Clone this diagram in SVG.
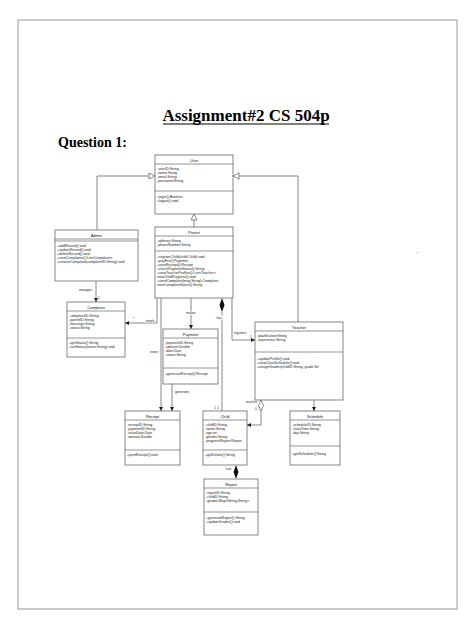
<svg xmlns="http://www.w3.org/2000/svg" width="474" height="632" viewBox="0 0 474 632">
<style>
.box{fill:#fff;stroke:#666;stroke-width:0.8}
.sep{stroke:#666;stroke-width:0.7}
.t{font-family:"Liberation Sans",Arial,sans-serif;font-size:3.5px;fill:#222}
.h{font-family:"Liberation Sans",Arial,sans-serif;font-size:3.9px;fill:#111;text-anchor:middle}
.c{fill:none;stroke:#555;stroke-width:0.7}
.lbl{font-family:"Liberation Sans",Arial,sans-serif;font-size:3.2px;fill:#222}
.title{font-family:"Liberation Serif","Times New Roman",serif;font-weight:bold;fill:#000}
</style>
<defs>
<marker id="arr" viewBox="0 0 6 6" refX="6" refY="3" markerWidth="4" markerHeight="4" orient="auto" markerUnits="userSpaceOnUse">
<path d="M0,0 L6,3 L0,6 z" fill="#222"/>
</marker>
</defs>
<rect width="474" height="632" fill="#fff"/>
<rect x="18" y="20" width="439" height="589" fill="none" stroke="#999" stroke-width="1"/>
<text class="title" x="246" y="121" font-size="17" text-anchor="middle">Assignment#2 CS 504p</text>
<line x1="163" y1="124" x2="329" y2="124" stroke="#000" stroke-width="1"/>
<text class="title" x="58" y="147" font-size="14">Question 1:</text>
<text class="lbl" x="417" y="255">*</text>

<g id="connectors">
<path class="c" d="M97,230 V176 H149"/>
<polygon points="149,173 155,176 149,179" fill="#fff" stroke="#555" stroke-width="0.7"/>
<path class="c" d="M298,322 V176 H239"/>
<polygon points="239,173 233,176 239,179" fill="#fff" stroke="#555" stroke-width="0.7"/>
<path class="c" d="M194,227 V220"/>
<polygon points="191,220 194,214 197,220" fill="#fff" stroke="#555" stroke-width="0.7"/>
<path class="c" d="M96,281 V302" marker-end="url(#arr)"/>
<text class="lbl" x="92" y="291" text-anchor="end">manages</text>
<text class="lbl" x="98" y="299">1</text>
<path class="c" d="M157,298 V323 H125" marker-end="url(#arr)"/>
<rect x="145" y="318.5" width="10" height="4" fill="#fff"/>
<text class="lbl" x="150" y="321.5" text-anchor="middle">sends</text>
<text class="lbl" x="133" y="320">*</text>
<path class="c" d="M161,298 V411" marker-end="url(#arr)"/>
<text class="lbl" x="158" y="353" text-anchor="end">views</text>
<path class="c" d="M191,298 V329" marker-end="url(#arr)"/>
<rect x="185" y="311" width="12" height="4" fill="#fff"/>
<text class="lbl" x="191" y="314" text-anchor="middle">makes</text>
<path class="c" d="M172,384 V411" marker-end="url(#arr)"/>
<text class="lbl" x="175" y="393">generates</text>
<polygon points="222,298 224.5,305 222,312 219.5,305" fill="#111"/>
<path class="c" d="M222,312 V411"/>
<rect x="214" y="315.5" width="10" height="4" fill="#fff"/>
<text class="lbl" x="219" y="318.5" text-anchor="middle">has</text>
<text class="lbl" x="216" y="409" text-anchor="end">1</text>
<text class="lbl" x="219" y="409" text-anchor="end">1</text>
<path class="c" d="M232,298 V340 H255" marker-end="url(#arr)"/>
<text class="lbl" x="234" y="334">registers</text>
<text class="lbl" x="250" y="338">1</text>
<polygon points="261,400 263.5,405.5 261,411 258.5,405.5" fill="#fff" stroke="#555" stroke-width="0.7"/>
<path class="c" d="M261,411 V425 H247" marker-end="url(#arr)"/>
<text class="lbl" x="257" y="403" text-anchor="end">teaches</text>
<text class="lbl" x="255" y="410">0..*</text>
<path class="c" d="M314,400 V411" marker-end="url(#arr)"/>
<text class="lbl" x="309" y="400">defines</text>
<polygon points="236,465 238.5,472 236,479 233.5,472" fill="#111"/>
<text class="lbl" x="231" y="470" text-anchor="end">has</text>
</g>

<g id="user">
<rect class="box" x="155" y="155" width="78" height="59"/>
<line class="sep" x1="155" y1="164" x2="233" y2="164"/>
<line class="sep" x1="155" y1="191" x2="233" y2="191"/>
<text class="h" x="194" y="161.5">User</text>
<text class="t" x="157" y="169.5">-userID:String</text>
<text class="t" x="157" y="173.5">-name:String</text>
<text class="t" x="157" y="177.5">-email:String</text>
<text class="t" x="157" y="181.5">-password:String</text>
<text class="t" x="157" y="198">+login():Boolean</text>
<text class="t" x="157" y="202">+logout():void</text>
</g>

<g id="admin">
<rect class="box" x="55" y="230" width="83" height="51"/>
<line class="sep" x1="55" y1="239" x2="138" y2="239"/>
<line class="sep" x1="55" y1="241" x2="138" y2="241"/>
<text class="h" x="96.5" y="236.5">Admin</text>
<text class="t" x="57" y="246.5">+addRecord():void</text>
<text class="t" x="57" y="250.5">+updateRecord():void</text>
<text class="t" x="57" y="254.5">+deleteRecord():void</text>
<text class="t" x="57" y="258.5">+viewComplaints():List&lt;Complaint&gt;</text>
<text class="t" x="57" y="262.5">+resolveComplaint(complaintID:String):void</text>
</g>

<g id="complaint">
<rect class="box" x="67" y="302" width="58" height="55"/>
<line class="sep" x1="67" y1="311" x2="125" y2="311"/>
<line class="sep" x1="67" y1="338" x2="125" y2="338"/>
<text class="h" x="96" y="308.5">Complaint</text>
<text class="t" x="69" y="316.5">-complaintID:String</text>
<text class="t" x="69" y="320.5">-parentID:String</text>
<text class="t" x="69" y="324.5">-message:String</text>
<text class="t" x="69" y="328.5">-status:String</text>
<text class="t" x="69" y="344">+getStatus():String</text>
<text class="t" x="69" y="348">+setStatus(status:String):void</text>
</g>

<g id="parent">
<rect class="box" x="155" y="227" width="78" height="71"/>
<line class="sep" x1="155" y1="236" x2="233" y2="236"/>
<line class="sep" x1="155" y1="251" x2="233" y2="251"/>
<text class="h" x="194" y="233.5">Parent</text>
<text class="t" x="157" y="241.5">-address:String</text>
<text class="t" x="157" y="245.5">-phoneNumber:String</text>
<text class="t" x="157" y="258">+registerChild(child:Child):void</text>
<text class="t" x="157" y="262">+payFee():Payment</text>
<text class="t" x="157" y="266">+viewReceipt():Receipt</text>
<text class="t" x="157" y="270">+checkPaymentStatus():String</text>
<text class="t" x="157" y="274">+viewTeacherProfiles():List&lt;Teacher&gt;</text>
<text class="t" x="157" y="278">viewChildProgress():void</text>
<text class="t" x="157" y="282">+sendComplaint(msg:String):Complaint</text>
<text class="t" x="157" y="286">viewComplaintStatus():String</text>
</g>

<g id="payment">
<rect class="box" x="163" y="329" width="55" height="55"/>
<line class="sep" x1="163" y1="338" x2="218" y2="338"/>
<line class="sep" x1="163" y1="368" x2="218" y2="368"/>
<text class="h" x="190.5" y="335.5">Payment</text>
<text class="t" x="165" y="343.5">-paymentID:String</text>
<text class="t" x="165" y="347.5">-amount:Double</text>
<text class="t" x="165" y="351.5">-date:Date</text>
<text class="t" x="165" y="355.5">-status:String</text>
<text class="t" x="165" y="375">+generateReceipt():Receipt</text>
</g>

<g id="teacher">
<rect class="box" x="255" y="322" width="88" height="78"/>
<line class="sep" x1="255" y1="331" x2="343" y2="331"/>
<line class="sep" x1="255" y1="352" x2="343" y2="352"/>
<text class="h" x="299" y="328.5">Teacher</text>
<text class="t" x="257" y="336.5">-qualification:String</text>
<text class="t" x="257" y="340.5">-experience:String</text>
<text class="t" x="257" y="360">+updateProfile():void</text>
<text class="t" x="257" y="364">+viewClassSchedule():void</text>
<text class="t" x="257" y="368">+assignGrades(childID:String, grade:Str</text>
</g>

<g id="receipt">
<rect class="box" x="125" y="411" width="55" height="54"/>
<line class="sep" x1="125" y1="420" x2="180" y2="420"/>
<line class="sep" x1="125" y1="450" x2="180" y2="450"/>
<text class="h" x="152.5" y="417.5">Receipt</text>
<text class="t" x="127" y="425.5">-receiptID:String</text>
<text class="t" x="127" y="429.5">-paymentID:String</text>
<text class="t" x="127" y="433.5">-issueDate:Date</text>
<text class="t" x="127" y="437.5">-amount:Double</text>
<text class="t" x="127" y="456">+printReceipt():void</text>
</g>

<g id="child">
<rect class="box" x="203" y="411" width="44" height="54"/>
<line class="sep" x1="203" y1="420" x2="247" y2="420"/>
<line class="sep" x1="203" y1="450" x2="247" y2="450"/>
<text class="h" x="225" y="417.5">Child</text>
<text class="t" x="205" y="425.5">-childID:String</text>
<text class="t" x="205" y="429.5">-name:String</text>
<text class="t" x="205" y="433.5">-age:int</text>
<text class="t" x="205" y="437.5">-gender:String</text>
<text class="t" x="205" y="441.5">-progressReport:Report</text>
<text class="t" x="205" y="456">+getDetails():String</text>
</g>

<g id="schedule">
<rect class="box" x="290" y="411" width="50" height="54"/>
<line class="sep" x1="290" y1="420" x2="340" y2="420"/>
<line class="sep" x1="290" y1="446" x2="340" y2="446"/>
<text class="h" x="315" y="417.5">Schedule</text>
<text class="t" x="292" y="425.5">-scheduleID:String</text>
<text class="t" x="292" y="429.5">-classTime:String</text>
<text class="t" x="292" y="433.5">-day:String</text>
<text class="t" x="292" y="455">+getSchedule():String</text>
</g>

<g id="report">
<rect class="box" x="204" y="479" width="54" height="56"/>
<line class="sep" x1="204" y1="488" x2="258" y2="488"/>
<line class="sep" x1="204" y1="512" x2="258" y2="512"/>
<text class="h" x="231" y="485.5">Report</text>
<text class="t" x="206" y="493.5">-reportID:String</text>
<text class="t" x="206" y="497.5">-childID:String</text>
<text class="t" x="206" y="501.5">-grades:Map&lt;String,String&gt;</text>
<text class="t" x="206" y="519">+generateReport():String</text>
<text class="t" x="206" y="523">+updateGrades():void</text>
</g>
</svg>
